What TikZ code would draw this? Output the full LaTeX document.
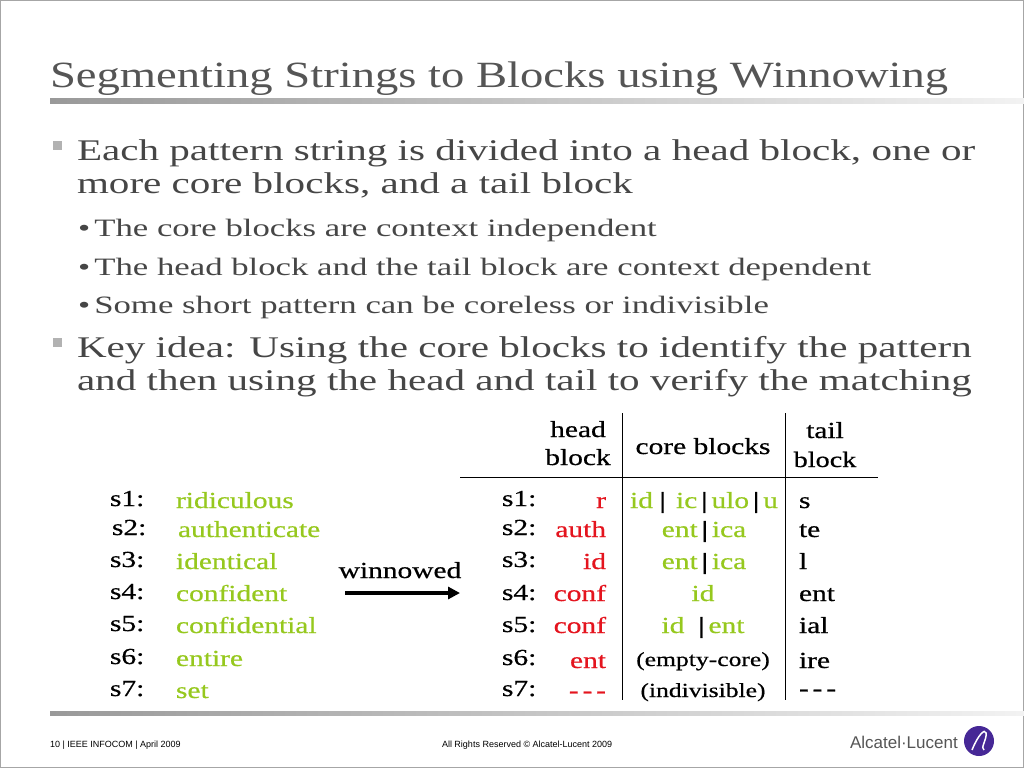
\documentclass[tikz,border=0pt]{standalone}
\usepackage{fontspec}
\setmainfont{Liberation Serif}
\newfontfamily\ftitle[FakeStretch=1.26]{Liberation Serif}
\newfontfamily\fbody[FakeStretch=1.37]{Liberation Serif}
\newfontfamily\fsub[FakeStretch=1.39]{Liberation Serif}
\newfontfamily\ftab[FakeStretch=1.28,FakeBold=0.6]{Liberation Serif}
\newfontfamily\footfont{Liberation Sans}
\usetikzlibrary{arrows.meta}
\definecolor{grn}{RGB}{150,200,30}
\definecolor{rd}{RGB}{228,20,30}
\definecolor{ttl}{RGB}{85,85,85}
\definecolor{bd}{RGB}{70,70,70}
\definecolor{purp}{RGB}{70,40,150}
\begin{document}
\begin{tikzpicture}[x=1pt,y=-1pt,
  every node/.style={inner sep=0pt,outer sep=0pt},
  body/.style={anchor=base west,font=\fbody\fontsize{30}{30}\selectfont,text=bd},
  sub/.style={anchor=base west,font=\fsub\fontsize{25}{25}\selectfont,text=bd},
  tb/.style={font=\ftab\fontsize{23}{23}\selectfont,anchor=base},
  g/.style={text=grn},r/.style={text=rd},
  foot/.style={font=\footfont\fontsize{9}{9}\selectfont,anchor=base west}]
\useasboundingbox (0,0) rectangle (1024,768);
\draw[gray!70,line width=1pt] (0.5,0.5) rectangle (1023.5,767.5);
\node[anchor=base west,font=\ftitle\fontsize{37}{37}\selectfont,text=ttl] (title) at (50,87) {Segmenting Strings to Blocks using Winnowing};
\shade[left color=gray!80,right color=gray!10] (50,98) rectangle (1024,103);
\fill[gray!60] (53,141) rectangle (62,150);
\node[body] (b1) at (77,160) {Each pattern string is divided into a head block, one or};
\node[body] (b1b) at (77,193) {more core blocks, and a tail block};
\node[sub] (d1) at (78,236) {\textbullet\,The core blocks are context independent};
\node[sub] (d2) at (78,275) {\textbullet\,The head block and the tail block are context dependent};
\node[sub] (d3) at (78,313) {\textbullet\,Some short pattern can be coreless or indivisible};
\fill[gray!60] (53,338) rectangle (62,347);
\node[body] (b2) at (77,357) {Key idea: Using the core blocks to identify the pattern};
\node[body] (b2b) at (77,390) {and then using the head and tail to verify the matching};
% table lines
\draw[line width=1pt] (622,413) -- (622,700);
\draw[line width=1pt] (785,413) -- (785,700);
\draw[line width=1pt] (460,477) -- (878,477);
\node[tb] (hh1) at (578,437) {head};
\node[tb] (hh2) at (578,465) {block};
\node[tb] (hc) at (703,454) {core blocks};
\node[tb] (ht1) at (825,438) {tail};
\node[tb,font=\ftab\fontsize{22}{22}\selectfont] (ht2) at (825,467) {block};
% left list
\foreach \l/\w/\y/\dx in {s1:/ridiculous/508/0,s2:/authenticate/537/2,s3:/identical/569/0,s4:/confident/601/0,s5:/confidential/633/0,s6:/entire/666/0,s7:/set/698/0}{
  \node[tb,anchor=base west] at (110+\dx,\y-2) {\l};
  \node[tb,anchor=base west,g] at (176+\dx,\y) {\w};
}
% right table rows
\foreach \l/\y in {s1:/506,s2:/535,s3:/567,s4:/600,s5:/632,s6:/665,s7:/696}
  \node[tb,anchor=base west] at (502,\y) {\l};
\node[tb,anchor=base east,r] at (606,508) {r};
\node[tb,anchor=base east,r] at (606,537) {auth};
\node[tb,anchor=base east,r] at (606,569) {id};
\node[tb,anchor=base east,r] at (606,601) {conf};
\node[tb,anchor=base east,r] at (606,633) {conf};
\node[tb,anchor=base east,r] at (606,668) {ent};
\node[tb,anchor=base east,r] at (606,698) {-\,-\,-};
\node[tb] at (704,508) {\textcolor{grn}{id}\;\textbf{|}\;\,\textcolor{grn}{ic}\,\textbf{|}\,\textcolor{grn}{ulo}\,\textbf{|}\,\textcolor{grn}{u}};
\node[tb] at (704,537) {\textcolor{grn}{ent}\,\textbf{|}\,\textcolor{grn}{ica}};
\node[tb] at (704,569) {\textcolor{grn}{ent}\,\textbf{|}\,\textcolor{grn}{ica}};
\node[tb,g] at (703,601) {id};
\node[tb] at (703,633) {\textcolor{grn}{id}\; \textbf{|}\,\textcolor{grn}{ent}};
\node[tb,font=\ftab\fontsize{20}{20}\selectfont] at (703,666) {(empty-core)};
\node[tb,font=\ftab\fontsize{20}{20}\selectfont] at (703,697) {(indivisible)};
\foreach \t/\y in {s/508,te/537,l/569,ent/601,ial/633,ire/668,-\,-\,-/696}
  \node[tb,anchor=base west] at (799,\y) {\t};
% arrow
\node[tb] (win) at (400,578) {winnowed};
\coordinate (as) at (345,593);
\coordinate (ae) at (460,593);
\draw[line width=3.5pt,-{Triangle[length=12pt,width=12pt]}] (as) -- (ae);
% footer
\shade[left color=gray!80,right color=gray!10] (50,711) rectangle (1024,715);
\node[foot] (f1) at (50,747) {10 | IEEE INFOCOM | April 2009};
\node[foot] (f2) at (442,747) {All Rights Reserved \textcopyright\ Alcatel-Lucent 2009};
\node[anchor=base west,font=\footfont\fontsize{17}{17}\selectfont,text=ttl] (logo) at (850,748) {Alcatel·Lucent};
\fill[purp] (979,741) circle (15);
\draw[white,line width=1.5pt] (972,750) .. controls (978,735) and (985,728) .. (986,733) .. controls (987,740) and (980,748) .. (984,750);
\end{tikzpicture}
\end{document}
